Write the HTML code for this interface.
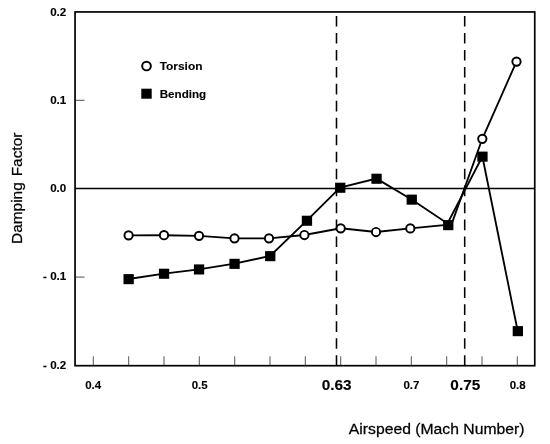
<!DOCTYPE html>
<html><head><meta charset="utf-8"><title>Damping Factor vs Airspeed</title>
<style>
html,body{margin:0;padding:0;background:#fff;}
svg{display:block;}
text{font-family:"Liberation Sans",Arial,Helvetica,sans-serif;fill:#000;}
.b{font-weight:bold;stroke:#000;stroke-width:0.12px;}
</style></head><body>
<svg width="550" height="444" viewBox="0 0 550 444">
<rect width="550" height="444" fill="#fff"/>
<rect x="75.05" y="11.95" width="459.7" height="353.75" fill="none" stroke="#000" stroke-width="1.7"/>
<line x1="75" y1="188.5" x2="535" y2="188.5" stroke="#000" stroke-width="1.3"/>
<line x1="93.3" y1="356.3" x2="93.3" y2="365.5" stroke="#111" stroke-width="0.72"/>
<line x1="128.7" y1="356.3" x2="128.7" y2="365.5" stroke="#111" stroke-width="0.72"/>
<line x1="164.0" y1="356.3" x2="164.0" y2="365.5" stroke="#111" stroke-width="0.72"/>
<line x1="199.3" y1="356.3" x2="199.3" y2="365.5" stroke="#111" stroke-width="0.72"/>
<line x1="234.7" y1="356.3" x2="234.7" y2="365.5" stroke="#111" stroke-width="0.72"/>
<line x1="270.0" y1="356.3" x2="270.0" y2="365.5" stroke="#111" stroke-width="0.72"/>
<line x1="305.3" y1="356.3" x2="305.3" y2="365.5" stroke="#111" stroke-width="0.72"/>
<line x1="340.7" y1="356.3" x2="340.7" y2="365.5" stroke="#111" stroke-width="0.72"/>
<line x1="376.0" y1="356.3" x2="376.0" y2="365.5" stroke="#111" stroke-width="0.72"/>
<line x1="411.3" y1="356.3" x2="411.3" y2="365.5" stroke="#111" stroke-width="0.72"/>
<line x1="446.7" y1="356.3" x2="446.7" y2="365.5" stroke="#111" stroke-width="0.72"/>
<line x1="482.0" y1="356.3" x2="482.0" y2="365.5" stroke="#111" stroke-width="0.72"/>
<line x1="517.3" y1="356.3" x2="517.3" y2="365.5" stroke="#111" stroke-width="0.72"/>
<line x1="75" y1="100.3" x2="84.5" y2="100.3" stroke="#222" stroke-width="0.8"/>
<line x1="75" y1="277.1" x2="84.5" y2="277.1" stroke="#222" stroke-width="0.8"/>
<line x1="336.5" y1="16" x2="336.5" y2="365.5" stroke="#000" stroke-width="1.55" stroke-dasharray="10.62 6.34"/>
<line x1="464.7" y1="16" x2="464.7" y2="365.5" stroke="#000" stroke-width="1.55" stroke-dasharray="10.62 6.34"/>
<polyline fill="none" stroke="#000" stroke-width="1.85" points="128.6,235.3 164.0,235.2 199.0,235.8 234.5,238.3 269.0,238.3 304.4,235.0 340.7,228.3 376.0,232.0 410.3,228.4 451.5,224.3 482.3,138.8 516.5,61.6"/>
<polyline fill="none" stroke="#000" stroke-width="1.85" points="128.6,279.0 164.0,273.6 199.0,269.3 234.5,263.7 270.1,256.0 306.8,220.6 340.1,187.6 376.5,178.6 411.6,199.5 447.5,223.5 482.4,156.5 517.7,331.0"/>
<circle cx="128.6" cy="235.3" r="4.15" fill="#fff" stroke="#000" stroke-width="1.95"/>
<circle cx="164.0" cy="235.2" r="4.15" fill="#fff" stroke="#000" stroke-width="1.95"/>
<circle cx="199.0" cy="235.8" r="4.15" fill="#fff" stroke="#000" stroke-width="1.95"/>
<circle cx="234.5" cy="238.3" r="4.15" fill="#fff" stroke="#000" stroke-width="1.95"/>
<circle cx="269.0" cy="238.3" r="4.15" fill="#fff" stroke="#000" stroke-width="1.95"/>
<circle cx="304.4" cy="235.0" r="4.15" fill="#fff" stroke="#000" stroke-width="1.95"/>
<circle cx="340.7" cy="228.3" r="4.15" fill="#fff" stroke="#000" stroke-width="1.95"/>
<circle cx="376.0" cy="232.0" r="4.15" fill="#fff" stroke="#000" stroke-width="1.95"/>
<circle cx="410.3" cy="228.4" r="4.15" fill="#fff" stroke="#000" stroke-width="1.95"/>
<circle cx="482.3" cy="138.8" r="4.15" fill="#fff" stroke="#000" stroke-width="1.95"/>
<circle cx="516.5" cy="61.6" r="4.15" fill="#fff" stroke="#000" stroke-width="1.95"/>
<rect x="123.5" y="274.1" width="10.3" height="10.1" fill="#000"/>
<rect x="158.9" y="268.7" width="10.3" height="10.1" fill="#000"/>
<rect x="193.9" y="264.4" width="10.3" height="10.1" fill="#000"/>
<rect x="229.4" y="258.8" width="10.3" height="10.1" fill="#000"/>
<rect x="265.1" y="251.1" width="10.3" height="10.1" fill="#000"/>
<rect x="301.8" y="215.7" width="10.3" height="10.1" fill="#000"/>
<rect x="335.1" y="182.7" width="10.3" height="10.1" fill="#000"/>
<rect x="371.4" y="173.7" width="10.3" height="10.1" fill="#000"/>
<rect x="406.6" y="194.6" width="10.3" height="10.1" fill="#000"/>
<rect x="443.1" y="220.1" width="10.3" height="10.1" fill="#000"/>
<rect x="477.3" y="151.6" width="10.3" height="10.1" fill="#000"/>
<rect x="512.7" y="326.1" width="10.3" height="10.1" fill="#000"/>
<circle cx="146.5" cy="66.0" r="4.35" fill="#fff" stroke="#000" stroke-width="1.95"/>
<rect x="141.3" y="88.7" width="10.4" height="10" fill="#000"/>
<text class="b" transform="translate(159.7,70.4) scale(1.062,1)" font-size="11.2">Torsion</text>
<text class="b" transform="translate(159.7,98.0) scale(1.04,1)" font-size="11.2">Bending</text>
<text class="b" x="66.3" y="15.9" font-size="11.6" text-anchor="end">0.2</text>
<text class="b" x="66.3" y="103.8" font-size="11.6" text-anchor="end">0.1</text>
<text class="b" x="66.3" y="192.4" font-size="11.6" text-anchor="end">0.0</text>
<text class="b" x="66.3" y="280.4" font-size="11.6" text-anchor="end">- 0.1</text>
<text class="b" x="66.3" y="368.6" font-size="11.6" text-anchor="end">- 0.2</text>
<text class="b" x="93.2" y="388.8" font-size="11.5" text-anchor="middle">0.4</text>
<text class="b" x="199.7" y="388.8" font-size="11.5" text-anchor="middle">0.5</text>
<text class="b" x="411.4" y="388.8" font-size="11.5" text-anchor="middle">0.7</text>
<text class="b" x="517.7" y="388.8" font-size="11.5" text-anchor="middle">0.8</text>
<text class="b" x="336.7" y="389.7" font-size="15.35" text-anchor="middle">0.63</text>
<text class="b" x="465.3" y="389.7" font-size="15.35" text-anchor="middle">0.75</text>
<text transform="translate(524.5,433.8) scale(1.056,1)" font-size="14.9" text-anchor="end" stroke="#000" stroke-width="0.25">Airspeed (Mach Number)</text>
<text transform="translate(21.8,244.0) rotate(-90) scale(1.058,1)" font-size="14.6" word-spacing="1.5" stroke="#000" stroke-width="0.25">Damping Factor</text>
</svg></body></html>
